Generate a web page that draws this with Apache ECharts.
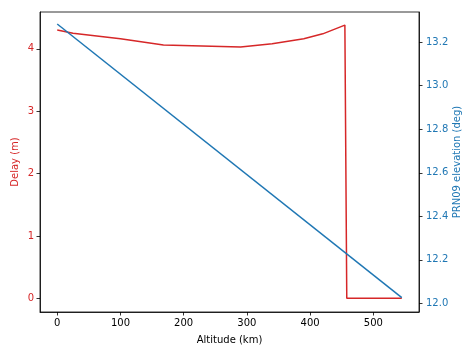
<!DOCTYPE html>
<html>
<head>
<meta charset="utf-8">
<script src="https://cdn.jsdelivr.net/npm/echarts@6/dist/echarts.min.js"></script>
<style>
  html, body { margin: 0; padding: 0; background: #fff; }
  #chart { width: 474px; height: 355px; }
</style>
</head>
<body>
<div id="chart"></div>
<script>
// delay vs altitude
const delayAlt = [0, 25, 100, 168, 290, 340, 390, 420, 455, 458, 545]
const delayVals = [4.30, 4.25, 4.16, 4.06, 4.03, 4.08, 4.16, 4.24, 4.38, 0, 0]
// elevation vs altitude
const elevAlt = [0, 545]
const elevVals = [13.284, 12.026]
const xTicks = [0, 100, 200, 300, 400, 500]
const delayTicks = [0, 1, 2, 3, 4]
const elevTicks = [12.0, 12.2, 12.4, 12.6, 12.8, 13.0, 13.2]

const red = '#d62728'
const blue = '#1f77b4'
const font = 'DejaVu Sans'

const chart = echarts.init(document.getElementById('chart'))
const tickStyle = { show: true, length: 3.5, lineStyle: { color: '#000', width: 0.8 } }
const lineStyle = { show: true, onZero: false, lineStyle: { color: '#000', width: 0.8 } }
chart.setOption({
  animation: false,
  grid: {
    left: 40, right: 55, top: 12, bottom: 43,
    outerBoundsMode: 'none',
    show: true, borderColor: '#000', borderWidth: 0.8, backgroundColor: 'transparent'
  },
  xAxis: {
    type: 'value',
    min: -27.25,
    max: 572.25,
    name: 'Altitude (km)',
    nameLocation: 'middle',
    nameGap: 23,
    nameMoveOverlap: false,
    nameTextStyle: { color: '#000', fontFamily: font, fontSize: 10 },
    axisLine: lineStyle,
    axisTick: Object.assign({ customValues: xTicks }, tickStyle),
    axisLabel: { customValues: xTicks, color: '#000', fontFamily: font, fontSize: 10, margin: 6 },
    splitLine: { show: false }
  },
  yAxis: [{
    type: 'value',
    position: 'left',
    min: -0.219,
    max: 4.59,
    name: 'Delay (m)',
    nameLocation: 'middle',
    nameGap: 20,
    nameMoveOverlap: false,
    nameTextStyle: { color: red, fontFamily: font, fontSize: 10 },
    axisLine: lineStyle,
    axisTick: Object.assign({ customValues: delayTicks }, tickStyle),
    axisLabel: { customValues: delayTicks, color: red, fontFamily: font, fontSize: 10, margin: 6 },
    splitLine: { show: false }
  }, {
    type: 'value',
    position: 'right',
    min: 11.96,
    max: 13.339,
    name: 'PRN09 elevation (deg)',
    nameLocation: 'middle',
    nameGap: 33,
    nameRotate: 90,
    nameMoveOverlap: false,
    nameTextStyle: { color: blue, fontFamily: font, fontSize: 10 },
    axisLine: lineStyle,
    axisTick: Object.assign({ customValues: elevTicks }, tickStyle),
    axisLabel: {
      customValues: elevTicks, color: blue, fontFamily: font, fontSize: 10, margin: 7,
      formatter: v => v.toFixed(1)
    },
    splitLine: { show: false }
  }],
  series: [{
    type: 'line',
    yAxisIndex: 0,
    data: delayAlt.map((a, i) => [a, delayVals[i]]),
    showSymbol: false,
    lineStyle: { color: red, width: 1.5 },
    z: 2
  }, {
    type: 'line',
    yAxisIndex: 1,
    data: elevAlt.map((a, i) => [a, elevVals[i]]),
    showSymbol: false,
    lineStyle: { color: blue, width: 1.5 },
    z: 3
  }]
})
</script>
</body>
</html>
